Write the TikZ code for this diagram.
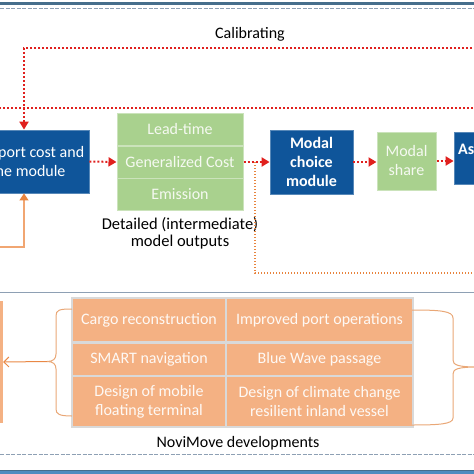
\documentclass[tikz,border=0pt]{standalone}
\usepackage{fontspec}
\setmainfont{Carlito}
\usetikzlibrary{arrows.meta}
\definecolor{boxblue}{HTML}{0F559A}
\definecolor{boxgreen}{HTML}{A9D18E}
\definecolor{boxpeach}{HTML}{F4B183}
\definecolor{calred}{HTML}{E0201E}
\definecolor{devorange}{HTML}{E8843E}
\definecolor{rulegray}{HTML}{8EA0B4}
\definecolor{topblue}{HTML}{466E8C}
\definecolor{botblue}{HTML}{4F8CC0}
\newcommand{\diagfont}{\fontsize{16}{19}\selectfont}

\begin{document}
\begin{tikzpicture}[x=1pt,y=-1pt,>={Triangle[length=8pt,width=9pt]},
  every node/.style={font=\diagfont,align=center,inner sep=0pt},
  bluebox/.style={fill=boxblue,draw=boxblue!70!white,text=white,line width=0.8pt},
  greenbox/.style={fill=boxgreen,draw=boxgreen!60!white,text=white!88!boxgreen,line width=1pt},
  devcell/.style={fill=boxpeach,draw=black!15,text=white!92!boxpeach,line width=2.5pt},
  calline/.style={calred,line width=2pt,dash pattern=on 2pt off 2pt},
  devline/.style={devorange,line width=1.4pt,dash pattern=on 1.4pt off 1.6pt},
  bracket/.style={draw=boxpeach!80!brown,line width=1pt}]
  \useasboundingbox (0,0) rectangle (474,474);
  \clip (0,0) rectangle (474,474);

  \fill[topblue] (0,1.5) rectangle (474,4.5);
  \draw[rulegray,line width=0.8pt,dash pattern=on 4pt off 1.5pt] (0,8.5) -- (474,8.5);
  \draw[rulegray,line width=1pt] (0,292.5) -- (474,292.5);
  \draw[rulegray,line width=0.8pt,dash pattern=on 4pt off 1.5pt] (0,454) -- (474,454);
  \fill[botblue] (0,470) rectangle (474,476);
  \draw[topblue,line width=1pt] (0,470) -- (474,470);

  \node (callbl) at (250,34) {Calibrating};
  \node[bluebox,minimum width=130pt,minimum height=63pt] (tcm) at (24,161.5) {Transport cost and\\time module};
  \node[greenbox,minimum width=126pt,minimum height=32pt] (lead) at (180,129) {Lead-time};
  \node[greenbox,minimum width=126pt,minimum height=32pt] (gc) at (180,162) {Generalized Cost};
  \node[greenbox,minimum width=126pt,minimum height=32pt] (emis) at (180,194) {Emission};
  \node[font=\fontsize{16.5}{17}\selectfont] (outlbl) at (180,233) {Detailed (intermediate)\\model outputs};
  \node[bluebox,font=\diagfont\bfseries,minimum width=83pt,minimum height=64pt] (mcm) at (311.5,162) {Modal\\choice\\module};
  \node[greenbox,minimum width=59pt,minimum height=58pt] (share) at (406.5,161) {Modal\\share};
  \node[bluebox,font=\diagfont\bfseries,minimum width=86pt,minimum height=52pt] (asg) at (497,158) {Assignment\\model};

  \coordinate (calR) at (480,48);
  \coordinate (calL) at (24,48);
  \coordinate (fbL) at (-5,108);
  \coordinate (fbR) at (480,108);
  \draw[calline,->] (calR) -- (calL) -- (tcm.north);
  \draw[calline] (fbL) -- (fbR);
  \draw[calline,->] (tcm.east) -- (gc.west);
  \draw[calline,->] (gc.east) -- (mcm.west);
  \draw[calline,->] (mcm.east) -- (mcm.east -| share.west);
  \draw[calline,->] (share.east) -- (share.east -| asg.west);

  \coordinate (split) at (255,162);
  \coordinate (devR) at (480,273);
  \coordinate (devL) at (-5,247);
  \draw[devline] (split) |- (devR);
  \draw[boxpeach!75!devorange,line width=1.3pt,-{Triangle[length=7pt,width=9pt,color=devorange]}] (devL) -| (tcm.south);

  \node[fill=boxpeach,minimum width=60pt,minimum height=122pt] (devbox) at (-27,362) {};
  \node[devcell,minimum width=154pt,minimum height=44.5pt] (cargo) at (149,320.25) {Cargo reconstruction};
  \node[devcell,minimum width=187pt,minimum height=44.5pt] (port) at (319.5,320.25) {Improved port operations};
  \node[devcell,minimum width=154pt,minimum height=33.5pt] (smart) at (149,359.25) {SMART navigation};
  \node[devcell,minimum width=187pt,minimum height=33.5pt] (wave) at (319.5,359.25) {Blue Wave passage};
  \node[devcell,minimum width=154pt,minimum height=51pt] (mobile) at (149,401.5) {Design of mobile\\floating terminal};
  \node[devcell,minimum width=187pt,minimum height=51pt] (vessel) at (319.5,401.5) {Design of climate change\\resilient inland vessel};

  \coordinate (lbtip) at (47,361.5);
  \coordinate (rbtip) at (478,367);
  \draw[bracket] (72,309) .. controls (59,309) and (56,310) .. (56,316) -- (56,354)
    .. controls (56,359) and (53,361.5) .. (lbtip) .. controls (53,361.5) and (56,364) .. (56,369)
    -- (56,409) .. controls (56,414) and (59,416) .. (72,416);
  \draw[bracket] (412,310) .. controls (440,310) and (453,311) .. (453,318) -- (453,360)
    .. controls (453,365) and (458,367) .. (rbtip) .. controls (458,367) and (453,369) .. (453,374)
    -- (453,418) .. controls (453,424) and (440,425) .. (412,425);
  \draw[devorange!90!boxpeach,line width=1pt,-{Straight Barb[length=5pt,width=10pt]}] (lbtip) -- (devbox.east);

  \node (novlbl) at (238,443) {NoviMove developments};
\end{tikzpicture}
\end{document}
